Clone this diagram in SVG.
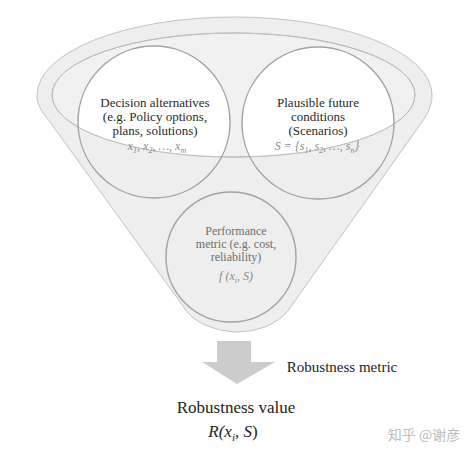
<svg xmlns="http://www.w3.org/2000/svg" width="474" height="453" viewBox="0 0 474 453">
<style>
.t{font-family:"Liberation Serif","Times New Roman",serif;text-anchor:middle}
.lbl{font-size:13px;fill:#2a2a2a}
.lbl2{font-size:12px;fill:#6e6e6e}
.math{font-size:12px;font-style:italic;fill:#8a8a8a}
.circ{fill:none;stroke:#a3a3a3;stroke-width:1.4}
</style>
<defs>
<clipPath id="innerClip"><ellipse cx="233.5" cy="95" rx="181.5" ry="62"/></clipPath>
</defs>
<rect width="474" height="453" fill="#ffffff"/>
<g id="funnel">
<path d="M37,95 C37,105 42,112 50,122 L183,306 Q190,318 205,325 Q235,338 265,327 Q280,320 287,312 L422,122 C429,112 432,104 432,95 A197.5,78 0 0 0 37,95 Z" fill="#eeeeee" stroke="#c2c2c2" stroke-width="1"/>
<ellipse cx="233.5" cy="95" rx="181.5" ry="62" fill="#f1f1f1" stroke="#bdbdbd" stroke-width="1"/>
<g clip-path="url(#innerClip)">
<circle cx="154" cy="122" r="76" fill="#ffffff"/>
<circle cx="318" cy="123" r="76" fill="#ffffff"/>
</g>
<ellipse cx="233.5" cy="95" rx="181.5" ry="62" fill="none" stroke="#bdbdbd" stroke-width="1"/>
</g>
<g id="decision">
<circle class="circ" cx="154" cy="122" r="76"/>
<text class="t lbl" x="155" y="107">Decision alternatives</text>
<text class="t lbl" x="155" y="121">(e.g. Policy options,</text>
<text class="t lbl" x="155" y="135">plans, solutions)</text>
<text class="t math" x="157" y="150">x<tspan font-size="8" dy="3">1</tspan><tspan dy="-3">, x</tspan><tspan font-size="8" dy="3">2</tspan><tspan dy="-3">, …, x</tspan><tspan font-size="8" dy="3">m</tspan></text>
</g>
<g id="scenarios">
<circle class="circ" cx="318" cy="123" r="76"/>
<text class="t lbl" x="318" y="107">Plausible future</text>
<text class="t lbl" x="318" y="121">conditions</text>
<text class="t lbl" x="318" y="135">(Scenarios)</text>
<text class="t math" x="317" y="150">S = {s<tspan font-size="8" dy="3">1</tspan><tspan dy="-3">, s</tspan><tspan font-size="8" dy="3">2</tspan><tspan dy="-3">, …, s</tspan><tspan font-size="8" dy="3">n</tspan><tspan dy="-3">}</tspan></text>
</g>
<g id="performance">
<circle class="circ" cx="231" cy="257" r="65"/>
<text class="t lbl2" x="236" y="235">Performance</text>
<text class="t lbl2" x="236" y="248">metric (e.g. cost,</text>
<text class="t lbl2" x="236" y="261">reliability)</text>
<text class="t math" x="236" y="280" fill="#777">f (x<tspan font-size="8" dy="3">i</tspan><tspan dy="-3">, S)</tspan></text>
</g>
<g id="connectors">
<path d="M217,341 L251,341 L251,362 L275,362 L237,384 L202,362 L217,362 Z" fill="#cccccc"/>
</g>
<g id="metric">
<text class="t" x="342" y="372" font-size="15" fill="#222">Robustness metric</text>
</g>
<g id="result">
<text class="t" x="236" y="413" font-size="17" fill="#222">Robustness value</text>
<text class="t" x="233" y="437" font-size="17" font-style="italic" fill="#222">R(x<tspan font-size="11" dy="4">i</tspan><tspan dy="-4" font-style="normal">, </tspan>S<tspan font-style="normal">)</tspan></text>
</g>
<text x="424" y="440" font-family="'Noto Sans CJK SC',sans-serif" font-size="14" fill="#bdbdbd" text-anchor="middle">知乎 @谢彦</text>
</svg>
